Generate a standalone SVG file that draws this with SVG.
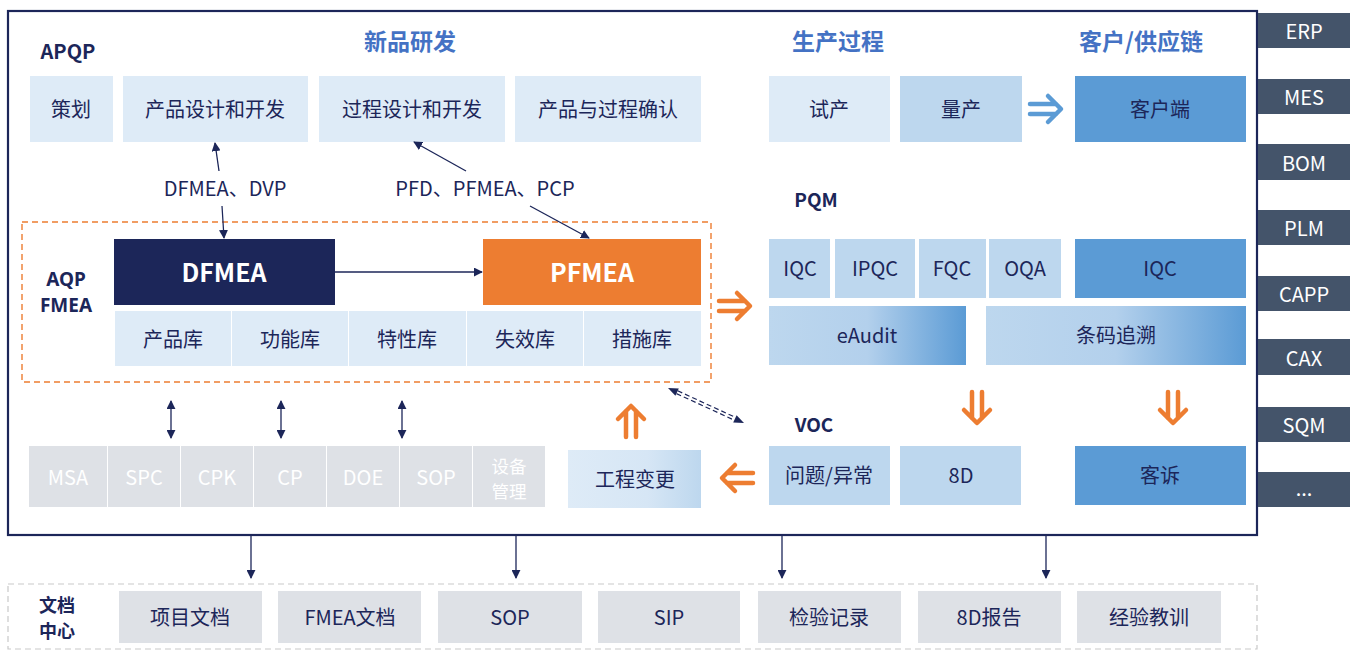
<svg xmlns="http://www.w3.org/2000/svg" xmlns:xlink="http://www.w3.org/1999/xlink" width="1353" height="659" viewBox="0 0 1353 659">
<style>
text{font-family:"Noto Sans CJK SC","Noto Sans",sans-serif;dominant-baseline:central;text-anchor:middle}
.t{font-size:20px;fill:#1c2659}
.tw{font-size:20px;fill:#ffffff}
.h{font-size:23px;font-weight:bold;fill:#4472c4}
.lb{font-size:19px;font-weight:bold;fill:#1c2659}
.big{font-size:25px;font-weight:bold;fill:#ffffff}
.c1{fill:#deebf7}
.c2{fill:#bdd7ee}
.c3{fill:#5b9bd5}
.cg{fill:#dee1e6}
.cs{fill:#44546a}
.nav{stroke:#1c2659;stroke-width:1.3;fill:none}
.dbo{stroke:#ed7d31;stroke-width:4.5;fill:none;stroke-linecap:round;stroke-linejoin:round}
.dbb{stroke:#5b9bd5;stroke-width:4.5;fill:none;stroke-linecap:round;stroke-linejoin:round}
</style>
<defs>
<marker id="ah" viewBox="0 0 10 10" refX="9" refY="5" markerWidth="9" markerHeight="9" markerUnits="userSpaceOnUse" orient="auto-start-reverse">
<path d="M0,0 L10,5 L0,10 z" fill="#1c2659"/>
</marker>
<path id="dbl" d="M-17,-5 H9 M-17,5 H9 M1,-13 L14,0 L1,13"/>
<linearGradient id="gbar" x1="0" y1="0" x2="1" y2="0">
<stop offset="0" stop-color="#bdd7ee"/>
<stop offset="0.5" stop-color="#b3d0ec"/>
<stop offset="1" stop-color="#5b9bd5"/>
</linearGradient>
<linearGradient id="gchg" x1="0" y1="0" x2="1" y2="0">
<stop offset="0" stop-color="#deebf7"/>
<stop offset="0.6" stop-color="#d6e6f5"/>
<stop offset="1" stop-color="#bdd7ee"/>
</linearGradient>
</defs>

<rect x="0" y="0" width="1353" height="659" fill="#ffffff"/>

<!-- main frame -->
<rect id="frame" x="8" y="11" width="1249" height="524" fill="none" stroke="#1c2659" stroke-width="2.2"/>

<!-- headings -->
<g id="headings">
<text x="68" y="50" class="lb" style="font-size:20px">APQP</text>
<text x="410" y="40" class="h">新品研发</text>
<text x="838" y="40" class="h">生产过程</text>
<text x="1141" y="40" class="h">客户/供应链</text>
<text x="816" y="198" class="lb">PQM</text>
<text x="814" y="423" class="lb">VOC</text>
<text x="66" y="279" class="lb" style="font-family:'Noto Sans',sans-serif">AQP</text>
<text x="66" y="305" class="lb" style="font-family:'Noto Sans',sans-serif">FMEA</text>
</g>

<!-- APQP row -->
<g id="n-cehua"><rect x="30" y="76" width="83" height="66" class="c1"/><text x="71" y="108" class="t">策划</text></g>
<g id="n-cpsj"><rect x="123" y="76" width="185" height="66" class="c1"/><text x="215" y="108" class="t">产品设计和开发</text></g>
<g id="n-gcsj"><rect x="319" y="76" width="186" height="66" class="c1"/><text x="412" y="108" class="t">过程设计和开发</text></g>
<g id="n-qr"><rect x="515" y="76" width="186" height="66" class="c1"/><text x="608" y="108" class="t">产品与过程确认</text></g>

<!-- production -->
<g id="n-sc"><rect x="769" y="76" width="121" height="66" class="c1"/><text x="829" y="108" class="t">试产</text></g>
<g id="n-lc"><rect x="900" y="76" width="122" height="66" class="c2"/><text x="961" y="108" class="t">量产</text></g>
<g id="n-khd"><rect x="1075" y="76" width="171" height="66" class="c3"/><text x="1160" y="108" class="t">客户端</text></g>

<!-- AQP FMEA -->
<rect id="aqp-box" x="22" y="222" width="689" height="160" fill="none" stroke="#ed7d31" stroke-width="1.4" stroke-dasharray="6 4"/>
<g id="n-dfmea"><rect x="114" y="239" width="221" height="66" fill="#1c2659"/><text x="224" y="271" class="big">DFMEA</text></g>
<g id="n-pfmea"><rect x="483" y="239" width="218" height="66" fill="#ed7d31"/><text x="592" y="271" class="big">PFMEA</text></g>
<g id="n-lib1"><rect x="115" y="311" width="116" height="55" class="c1"/><text x="173" y="338" class="t">产品库</text></g>
<g id="n-lib2"><rect x="232" y="311" width="116" height="55" class="c1"/><text x="290" y="338" class="t">功能库</text></g>
<g id="n-lib3"><rect x="349" y="311" width="117" height="55" class="c1"/><text x="407" y="338" class="t">特性库</text></g>
<g id="n-lib4"><rect x="467" y="311" width="116" height="55" class="c1"/><text x="525" y="338" class="t">失效库</text></g>
<g id="n-lib5"><rect x="584" y="311" width="117" height="55" class="c1"/><text x="642" y="338" class="t">措施库</text></g>

<!-- PQM -->
<g id="n-iqc"><rect x="769" y="239" width="61" height="59" class="c2"/><text x="800" y="267" class="t">IQC</text></g>
<g id="n-ipqc"><rect x="835" y="239" width="80" height="59" class="c2"/><text x="875" y="267" class="t">IPQC</text></g>
<g id="n-fqc"><rect x="919" y="239" width="67" height="59" class="c2"/><text x="952" y="267" class="t">FQC</text></g>
<g id="n-oqa"><rect x="989" y="239" width="72" height="59" class="c2"/><text x="1025" y="267" class="t">OQA</text></g>
<g id="n-iqc2"><rect x="1075" y="239" width="171" height="59" class="c3"/><text x="1160" y="267" class="t">IQC</text></g>
<g id="n-eaudit"><rect x="769" y="306" width="197" height="59" fill="url(#gbar)"/><text x="867" y="334" class="t">eAudit</text></g>
<g id="n-tmzs"><rect x="986" y="306" width="260" height="59" fill="url(#gbar)"/><text x="1116" y="334" class="t">条码追溯</text></g>

<!-- tools row -->
<g id="n-msa"><rect x="29" y="446" width="78" height="61" class="cg"/><text x="68" y="476" class="tw">MSA</text></g>
<g id="n-spc"><rect x="108" y="446" width="72" height="61" class="cg"/><text x="144" y="476" class="tw">SPC</text></g>
<g id="n-cpk"><rect x="181" y="446" width="72" height="61" class="cg"/><text x="217" y="476" class="tw">CPK</text></g>
<g id="n-cp"><rect x="254" y="446" width="72" height="61" class="cg"/><text x="290" y="476" class="tw">CP</text></g>
<g id="n-doe"><rect x="327" y="446" width="72" height="61" class="cg"/><text x="363" y="476" class="tw">DOE</text></g>
<g id="n-sop"><rect x="400" y="446" width="72" height="61" class="cg"/><text x="436" y="476" class="tw">SOP</text></g>
<g id="n-sbgl"><rect x="473" y="446" width="72" height="61" class="cg"/><text x="509" y="465" class="tw" style="font-size:17.5px">设备</text><text x="509" y="490" class="tw" style="font-size:17.5px">管理</text></g>

<g id="n-gcbg"><rect x="568" y="450" width="133" height="58" fill="url(#gchg)"/><text x="635" y="478" class="t">工程变更</text></g>

<!-- VOC -->
<g id="n-wt"><rect x="769" y="446" width="121" height="59" class="c2"/><text x="829" y="474" class="t">问题/异常</text></g>
<g id="n-8d"><rect x="900" y="446" width="121" height="59" class="c2"/><text x="961" y="474" class="t">8D</text></g>
<g id="n-ks"><rect x="1075" y="446" width="171" height="59" class="c3"/><text x="1160" y="474" class="t">客诉</text></g>

<!-- side systems -->
<g id="n-erp"><rect x="1258" y="13" width="92" height="35" class="cs"/><text x="1304" y="30" class="tw">ERP</text></g>
<g id="n-mes"><rect x="1258" y="79" width="92" height="35" class="cs"/><text x="1304" y="96" class="tw">MES</text></g>
<g id="n-bom"><rect x="1258" y="144" width="92" height="36" class="cs"/><text x="1304" y="162" class="tw">BOM</text></g>
<g id="n-plm"><rect x="1258" y="210" width="92" height="35" class="cs"/><text x="1304" y="227" class="tw">PLM</text></g>
<g id="n-capp"><rect x="1258" y="276" width="92" height="35" class="cs"/><text x="1304" y="293" class="tw">CAPP</text></g>
<g id="n-cax"><rect x="1258" y="339" width="92" height="36" class="cs"/><text x="1304" y="357" class="tw">CAX</text></g>
<g id="n-sqm"><rect x="1258" y="407" width="92" height="35" class="cs"/><text x="1304" y="424" class="tw">SQM</text></g>
<g id="n-etc"><rect x="1258" y="472" width="92" height="35" class="cs"/><text x="1304" y="487" class="tw">...</text></g>

<!-- document center -->
<rect id="doc-box" x="8" y="584" width="1249" height="65" fill="none" stroke="#c9c9c9" stroke-width="1.2" stroke-dasharray="6 4"/>
<g id="n-doc-label"><text x="57" y="604" class="lb" style="font-size:18px">文档</text><text x="57" y="630" class="lb" style="font-size:18px">中心</text></g>
<g id="n-d1"><rect x="119" y="591" width="143" height="52" class="cg"/><text x="190" y="616" class="t">项目文档</text></g>
<g id="n-d2"><rect x="278" y="591" width="143" height="52" class="cg"/><text x="350" y="616" class="t">FMEA文档</text></g>
<g id="n-d3"><rect x="438" y="591" width="144" height="52" class="cg"/><text x="510" y="616" class="t">SOP</text></g>
<g id="n-d4"><rect x="598" y="591" width="142" height="52" class="cg"/><text x="669" y="616" class="t">SIP</text></g>
<g id="n-d5"><rect x="758" y="591" width="143" height="52" class="cg"/><text x="829" y="616" class="t">检验记录</text></g>
<g id="n-d6"><rect x="918" y="591" width="143" height="52" class="cg"/><text x="989" y="616" class="t">8D报告</text></g>
<g id="n-d7"><rect x="1077" y="591" width="144" height="52" class="cg"/><text x="1149" y="616" class="t">经验教训</text></g>

<!-- connectors -->
<g id="connectors">
<line x1="219" y1="171" x2="215" y2="143" class="nav" marker-end="url(#ah)"/>
<line x1="222" y1="206" x2="224" y2="238" class="nav" marker-end="url(#ah)"/>
<text x="225" y="187" class="t">DFMEA、DVP</text>
<line x1="466" y1="171" x2="414" y2="142" class="nav" marker-end="url(#ah)"/>
<line x1="530" y1="206" x2="589" y2="238" class="nav" marker-end="url(#ah)"/>
<text x="485" y="187" class="t">PFD、PFMEA、PCP</text>
<line x1="335" y1="272" x2="482" y2="272" class="nav" marker-end="url(#ah)"/>

<line x1="171" y1="401" x2="171" y2="438" class="nav" marker-start="url(#ah)" marker-end="url(#ah)"/>
<line x1="281" y1="401" x2="281" y2="438" class="nav" marker-start="url(#ah)" marker-end="url(#ah)"/>
<line x1="402" y1="401" x2="402" y2="438" class="nav" marker-start="url(#ah)" marker-end="url(#ah)"/>

<line x1="251" y1="536" x2="251" y2="578" class="nav" marker-end="url(#ah)"/>
<line x1="516" y1="536" x2="516" y2="578" class="nav" marker-end="url(#ah)"/>
<line x1="782" y1="536" x2="782" y2="578" class="nav" marker-end="url(#ah)"/>
<line x1="1046" y1="536" x2="1046" y2="578" class="nav" marker-end="url(#ah)"/>

<!-- dashed double-line arrow -->
<g stroke="#1c2659" stroke-width="1.2" stroke-dasharray="5 3" fill="none">
<line x1="676.5" y1="393.6" x2="734.3" y2="420.2"/>
<line x1="677.7" y1="390.8" x2="735.5" y2="417.4"/>
</g>
<polygon points="668,388 675.4,395.8 678.8,388.6" fill="#1c2659"/>
<polygon points="744,423 733.2,422.4 736.6,415.2" fill="#1c2659"/>

<!-- block arrows -->
<use href="#dbl" xlink:href="#dbl" class="dbb" transform="translate(1047,109)"/>
<use href="#dbl" xlink:href="#dbl" class="dbo" transform="translate(736,306)"/>
<use href="#dbl" xlink:href="#dbl" class="dbo" transform="translate(736,478) rotate(180)"/>
<use href="#dbl" xlink:href="#dbl" class="dbo" transform="translate(631,420) rotate(-90)"/>
<use href="#dbl" xlink:href="#dbl" class="dbo" transform="translate(977,409) rotate(90)"/>
<use href="#dbl" xlink:href="#dbl" class="dbo" transform="translate(1173,409) rotate(90)"/>
</g>
</svg>
